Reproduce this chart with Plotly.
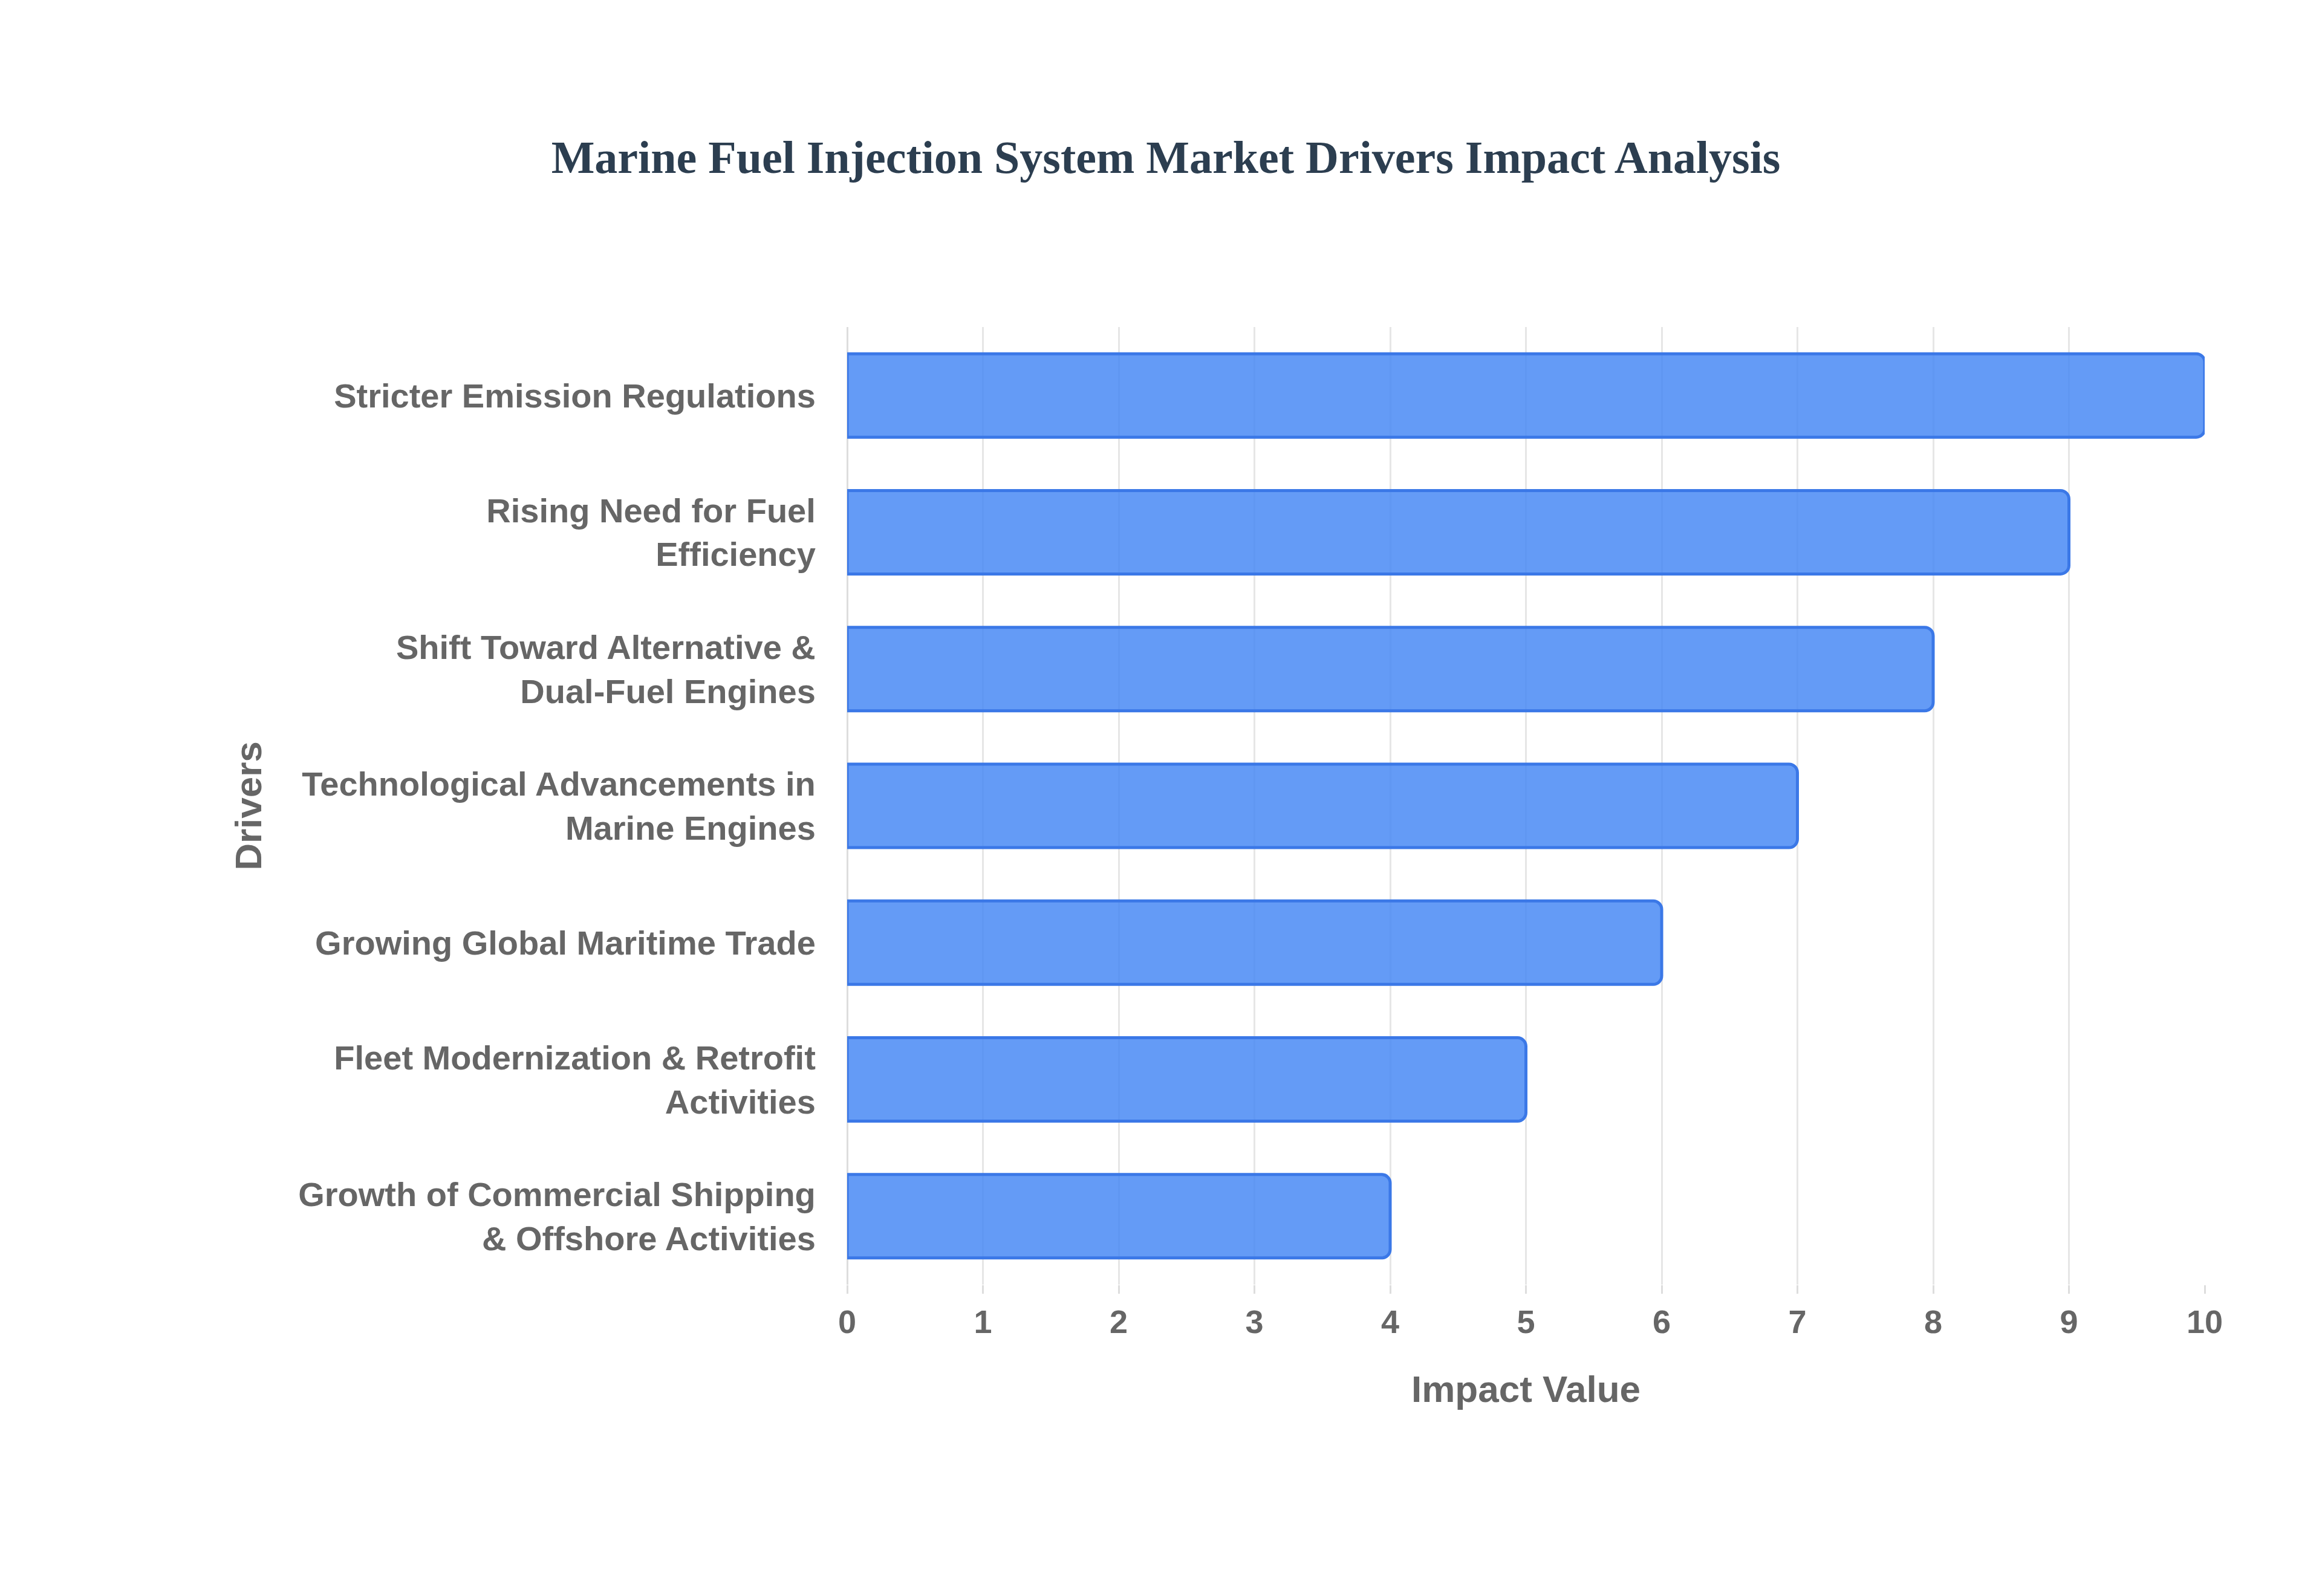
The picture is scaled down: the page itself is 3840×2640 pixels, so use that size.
import plotly.graph_objects as go

drivers = ["Stricter Emission Regulations", "Rising Need for Fuel<br>Efficiency",
           "Shift Toward Alternative &<br>Dual-Fuel Engines", "Technological Advancements in<br>Marine Engines",
           "Growing Global Maritime Trade", "Fleet Modernization & Retrofit<br>Activities",
           "Growth of Commercial Shipping<br>& Offshore Activities"]
values = [10, 9, 8, 7, 6, 5, 4]

fig = go.Figure(go.Bar(
    x=values, y=drivers, orientation="h",
    marker=dict(color="rgba(66,133,244,0.82)", line=dict(color="#3b78e7", width=5), cornerradius=14),
))
fig.update_layout(
    width=3840, height=2640,
    paper_bgcolor="white", plot_bgcolor="white",
    title=dict(text="<b>Marine Fuel Injection System Market Drivers Impact Analysis</b>",
               x=0.5, xanchor="center", y=0.915, font=dict(family="Liberation Serif", size=76, color="#2c3e50")),
    margin=dict(l=1393, r=202, t=533, b=523),
    bargap=0.39,
    font=dict(family="Liberation Sans", color="#666666"),
    showlegend=False,
)
fig.update_xaxes(range=[0, 10], dtick=1, showgrid=True, gridcolor="#e6e6e6", gridwidth=3,
                 zeroline=True, zerolinecolor="#dddddd", zerolinewidth=3,
                 tickfont=dict(size=54, family="Liberation Sans", color="#666666"),
                 ticks="outside", ticklen=14, tickcolor="#dddddd", tickwidth=3,
                 title=dict(text="<b>Impact Value</b>", font=dict(size=62, color="#666666"), standoff=60),
                 tickprefix="<b>", ticksuffix="</b>")
fig.update_yaxes(autorange="reversed", showgrid=False, tickprefix="<b>", ticksuffix="</b>",
                 tickfont=dict(size=56, color="#666666"), ticks="outside", ticklen=40, tickcolor="white",
                 title=dict(text="<b>Drivers</b>", font=dict(size=62, color="#666666"), standoff=40))
fig.write_html("out.html")
